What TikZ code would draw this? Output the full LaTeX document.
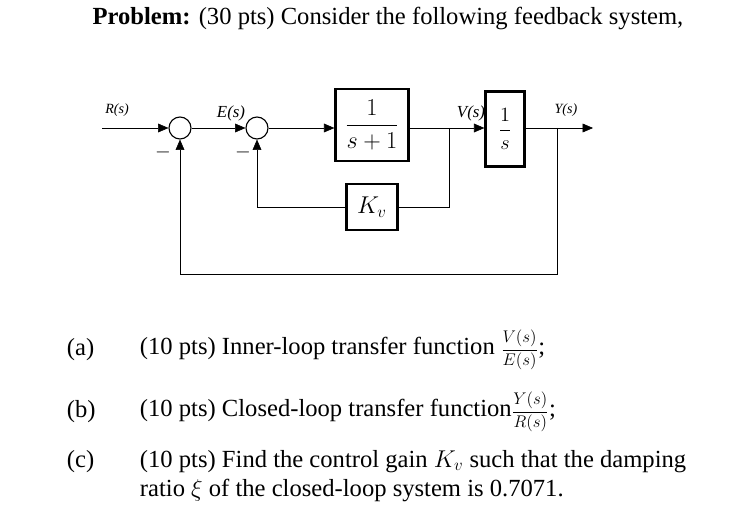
\documentclass[tikz,border=0pt]{standalone}
\usepackage{amsmath}
\usepackage{fontspec}
\setmainfont{Liberation Serif}
\usetikzlibrary{arrows.meta,positioning,calc}

\begin{document}
\begin{tikzpicture}[
    x=0.025cm, y=-0.025cm,
    blk/.style={rectangle, draw, line width=1.6pt, inner sep=0pt},
    sum/.style={circle, draw, thick, minimum size=22*0.025cm, inner sep=0pt},
    sig/.style={font=\fontsize{10}{11}\selectfont\itshape},
    txt/.style={font=\fontsize{17.5}{21}\selectfont, anchor=west, align=left},
    >={Triangle[length=2.6mm,width=2.2mm]},
]
    \useasboundingbox (0,0) rectangle (755,525);

    % Title
    \node[txt, anchor=center] (title) at (388,18) {\textbf{Problem:} (30 pts) Consider the following feedback system,};

    % Blocks and junctions
    \node[sum] (s1) at (180,128) {};
    \node[sum] (s2) at (257,128) {};
    \node[blk, minimum width=73*0.025cm, minimum height=72*0.025cm] (g1) at (372,125)
        {\fontsize{17}{18}\selectfont$\dfrac{1}{s+1}$};
    \node[blk, minimum width=39*0.025cm, minimum height=75*0.025cm] (g2) at (505,129)
        {\fontsize{14}{15}\selectfont$\dfrac{1}{s}$};
    \node[blk, minimum width=51*0.025cm, minimum height=46*0.025cm] (kv) at (372,207)
        {\fontsize{17}{18}\selectfont$K_v$};
    \coordinate (in) at (102,128);
    \coordinate (out) at (593,128);
    \coordinate (vb) at (449,128);
    \coordinate (yb) at (557,128);

    % Forward path
    \draw[->] (in) -- (s1);
    \draw[->] (s1) -- (s2);
    \draw[->] (s2) -- (g1.west |- s2);
    \draw[->] (g1.east |- s2) -- (g2.west |- s2);
    \draw[->] (g2.east |- s2) -- (out);

    % Feedback paths
    \draw (vb) |- (kv.east);
    \draw[->] (kv.west) -| (s2.south);
    \draw[->] (yb) |- (180,274) -- (s1.south);

    % Signal labels
    \node[sig] (lr) at (117,110) {R(s)};
    \node[sig, font=\fontsize{12}{13}\selectfont\itshape] (le) at (231,113) {E(s)};
    \node[sig, font=\fontsize{12}{13}\selectfont\itshape] (lv) at (471,113) {V(s)};
    \node[sig] (ly) at (566,110) {Y(s)};
    \node[font=\Large] (m1) at (163,152) {$-$};
    \node[font=\Large] (m2) at (243,152) {$-$};

    % Questions
    \node[txt] (qa) at (62,350) {(a)};
    \node[txt] (ta) at (135,350) {(10 pts) Inner-loop transfer function {\fontsize{13}{14}\selectfont$\dfrac{V(s)}{E(s)}$};};
    \node[txt] (qb) at (62,412) {(b)};
    \node[txt] (tb) at (135,412) {(10 pts) Closed-loop transfer function{\fontsize{13}{14}\selectfont$\dfrac{Y(s)}{R(s)}$};};
    \node[txt] (qc) at (62,462) {(c)};
    \node[txt] (tc) at (135,476) {(10 pts) Find the control gain $K_v$ such that the damping\\ratio $\xi$ of the closed-loop system is 0.7071.};
\end{tikzpicture}
\end{document}
